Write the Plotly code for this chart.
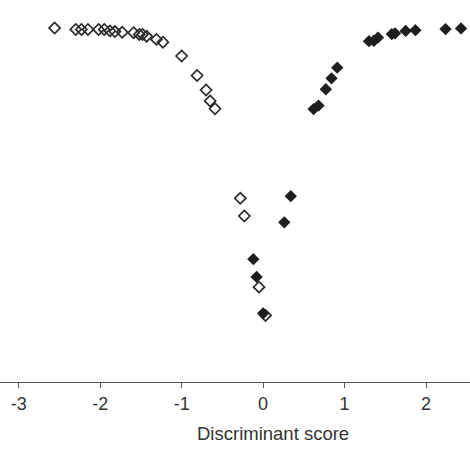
import plotly.graph_objects as go

# Open diamonds (group 1)
open_x = [-2.56, -2.30, -2.23, -2.15, -2.02, -1.95, -1.88, -1.82, -1.73, -1.59, -1.52, -1.48,
          -1.43, -1.31, -1.23, -1.00, -0.81, -0.70, -0.65, -0.59, -0.28, -0.23, -0.05, 0.03]
open_y = [1.000, 0.996, 0.996, 0.996, 0.996, 0.996, 0.992, 0.990, 0.988, 0.987, 0.982, 0.982,
          0.977, 0.968, 0.960, 0.921, 0.866, 0.825, 0.794, 0.772, 0.519, 0.469, 0.268, 0.188]

# Filled diamonds (group 2)
filled_x = [0.62, 0.68, 0.77, 0.84, 0.91, 1.30, 1.36, 1.41, 1.58, 1.62, 1.75, 1.87, 2.24, 2.43,
            0.34, 0.26, -0.12, -0.08, 0.00]
filled_y = [0.771, 0.781, 0.827, 0.858, 0.888, 0.963, 0.964, 0.973, 0.983, 0.985, 0.992, 0.994,
            0.997, 0.999, 0.525, 0.451, 0.347, 0.297, 0.194]

tick_vals = [-3, -2, -1, 0, 1, 2]
tick_text = ["-3", "-2", "-1", "0", "1", "2"]

fig = go.Figure()
fig.add_trace(go.Scatter(x=open_x, y=open_y, mode="markers",
                         marker=dict(symbol="diamond-open", size=8.5, color="#2a2a2a",
                                     line=dict(width=1.7, color="#2a2a2a"))))
fig.add_trace(go.Scatter(x=filled_x, y=filled_y, mode="markers",
                         marker=dict(symbol="diamond", size=9.5, color="#1e1e1e",
                                     line=dict(width=0))))

fig.update_layout(
    width=470, height=470,
    margin=dict(l=0, r=0, t=10, b=88),
    plot_bgcolor="white", paper_bgcolor="white",
    showlegend=False,
    font=dict(family="Liberation Sans, Arial, sans-serif", size=18, color="#333333"),
    xaxis=dict(range=[-3.23, 2.54], tickvals=tick_vals, ticktext=tick_text,
               showgrid=False, zeroline=False, showline=True, linecolor="#555555",
               linewidth=1.2, ticks="outside", ticklen=5, tickcolor="#555555",
               tickfont=dict(size=18, color="#333333")),
    yaxis=dict(range=[0, 1.051], visible=False),
    annotations=[dict(text="Discriminant score", xref="paper", yref="paper",
                      x=273/470, y=-(433-382)/372, xanchor="center", yanchor="middle",
                      showarrow=False, font=dict(size=18.5, color="#333333"))],
)

fig.write_html("out.html")
